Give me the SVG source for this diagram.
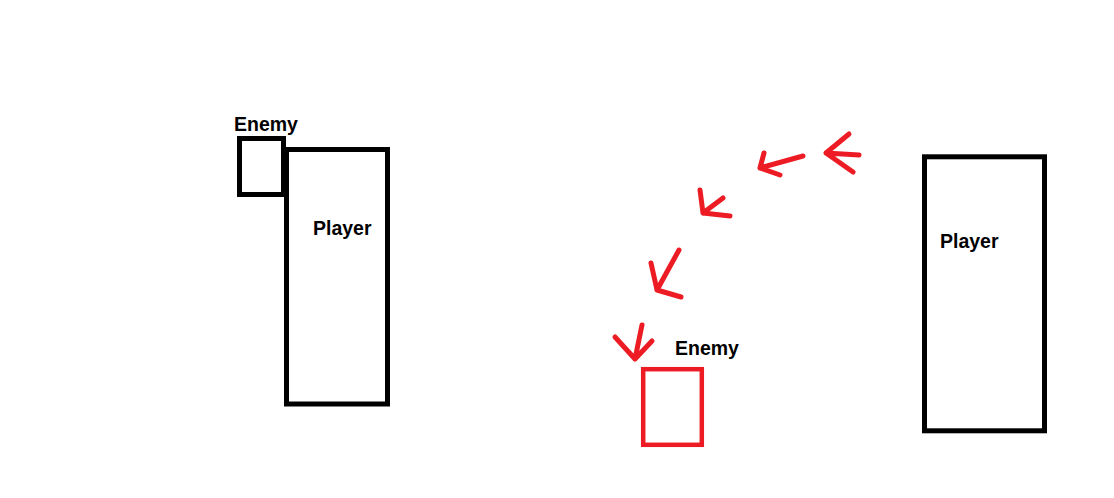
<svg xmlns="http://www.w3.org/2000/svg" width="1114" height="498" viewBox="0 0 1114 498">
<style>
.box{fill:none;stroke:#000;stroke-width:5}
.red{fill:none;stroke:#ED1C24;stroke-width:5;stroke-linecap:round;stroke-linejoin:round}
.lbl{font-family:"Liberation Sans",Arial,sans-serif;font-weight:bold;font-size:19.5px;fill:#000}
</style>
<rect width="1114" height="498" fill="#fff"/>
<g id="enemy-left">
<rect class="box" x="239.5" y="138.5" width="44" height="56"/>
<text class="lbl" x="234" y="131">Enemy</text>
</g>
<g id="player-left">
<rect class="box" x="286.5" y="149.5" width="101" height="254.5"/>
<text class="lbl" x="313" y="235">Player</text>
</g>
<g id="player-right">
<rect class="box" x="924.5" y="156.8" width="120" height="274"/>
<text class="lbl" x="940" y="248">Player</text>
</g>
<g id="enemy-right">
<rect fill="none" stroke="#ED1C24" stroke-width="4.5" x="643.2" y="369.2" width="58.6" height="75.6"/>
<text class="lbl" x="675" y="355">Enemy</text>
</g>
<g id="connectors">
<path class="red" d="M859 155 L826 153 M849 134 L826 153 L853 172"/>
<path class="red" d="M803 156 L760 168 M764 153 L760 168 L780 175"/>
<path class="red" d="M723 198 L703 213 M700 190 L703 213 L730 216"/>
<path class="red" d="M679 250 L657 290 M651 263 L657 290 L681 297"/>
<path class="red" d="M642 325 L635 359 M615 337 L635 359 L652 341"/>
</g>
</svg>
